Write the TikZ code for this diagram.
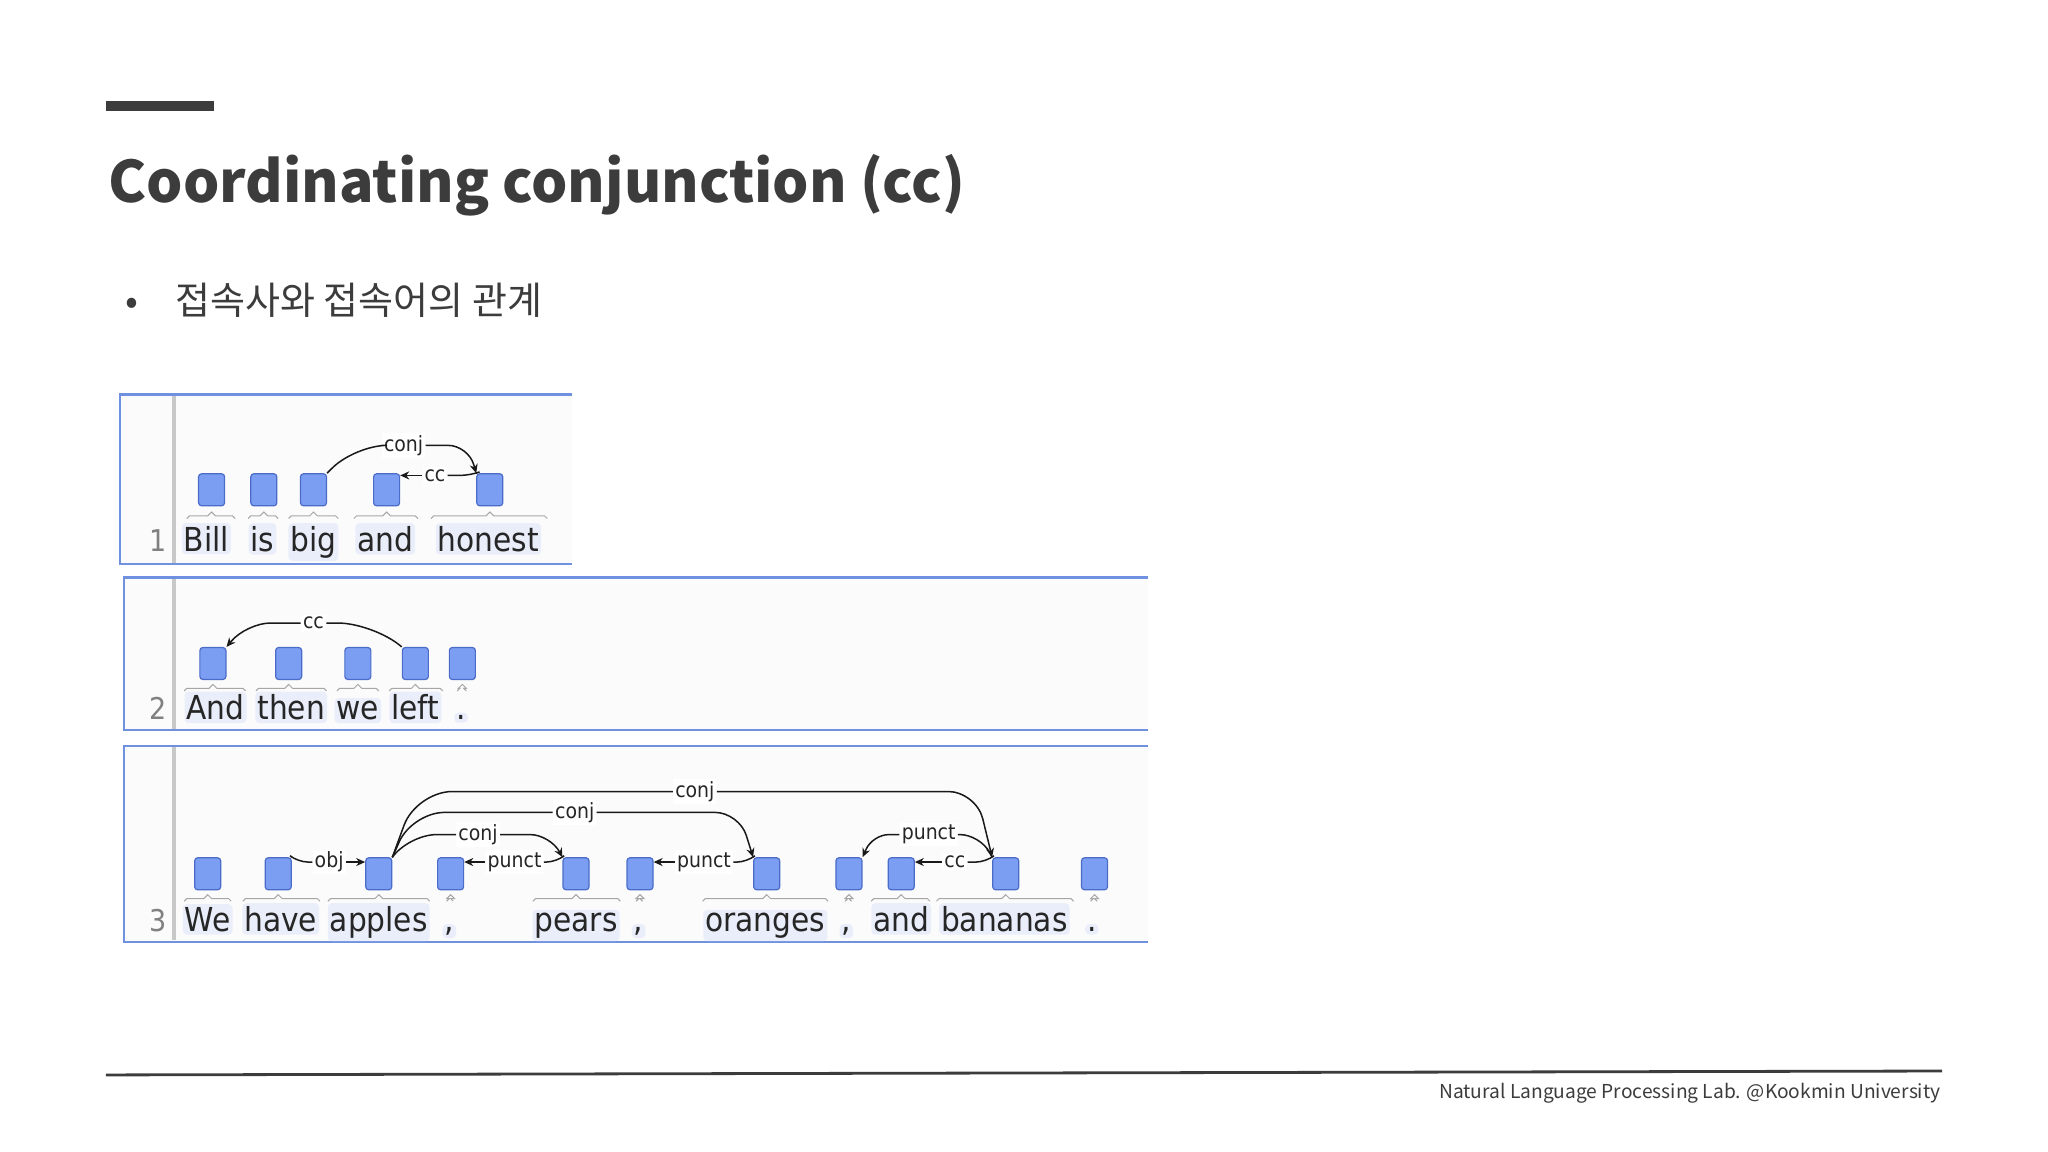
\documentclass[tikz,border=0pt]{standalone}
\usepackage{fontspec}
\setmainfont{Noto Sans CJK KR}
\newfontfamily\tokfont{DejaVu Sans Condensed}
\usetikzlibrary{arrows.meta,calc}
\definecolor{titlec}{HTML}{3C3C3C}
\definecolor{frameb}{HTML}{7090E0}
\definecolor{tokf}{HTML}{7C9EF2}
\definecolor{tokd}{HTML}{4A6CC8}
\definecolor{wbg}{HTML}{EAEEFA}
\definecolor{gdiv}{HTML}{C8C8C8}
\tikzset{
  tok/.style={draw=tokd,fill=tokf,rounded corners=1.5pt,minimum width=13pt,minimum height=16pt,inner sep=0pt,line width=0.6pt},
  wd/.style={fill=wbg,rounded corners=2pt,inner xsep=1pt,inner ysep=1.5pt,font=\tokfont\fontsize{16.5}{16.5}\selectfont,text=black!85,anchor=base},
  lab/.style={font=\tokfont\fontsize{10.5}{10.5}\selectfont,inner sep=1pt,fill=white,text=black!85},
  arcl/.style={draw=black!90,line width=0.75pt,rounded corners=10pt},
  arr/.style={arcl,-{Stealth[length=4.5pt,width=4pt]}},
  panelframe/.style={draw=frameb,line width=1.2pt},
  num/.style={font=\tokfont\fontsize{15}{15}\selectfont,text=gray,anchor=base}
}
\newcommand{\brk}[4]{\draw[gray!70,line width=0.5pt] (#1,#4+2)--(#1+2,#4)--(#3-3,#4)--(#3,#4-3)--(#3+3,#4)--(#2-2,#4)--(#2,#4+2);}
\begin{document}
\begin{tikzpicture}[x=0.653pt,y=-0.653pt]
\useasboundingbox (0,0) rectangle (1568,882);
\fill[white] (0,0) rectangle (1568,882);
% header
\fill[titlec] (81,77) rectangle (164,85);
\node[anchor=base west,inner sep=0,font=\fontsize{28.6}{28.6}\selectfont\bfseries,text=titlec] (title) at (83,155) {Coordinating conjunction (cc)};
\node[anchor=base west,inner sep=0,font=\fontsize{19}{19}\selectfont,text=titlec] (bul) at (96,241) {•};
\node[anchor=base west,inner sep=0,font=\fontsize{19}{19}\selectfont,text=titlec] (sub) at (134,241) {접속사와 접속어의 관계};
% footer
\draw[titlec,line width=1.4pt] (81,823) -- (1487,820);
\node[anchor=base east,inner sep=0,font=\fontsize{9.6}{9.6}\selectfont,text=titlec] (foot) at (1486,841) {Natural Language Processing Lab. @Kookmin University};

% ---------- Panel 1
\fill[black!1.5] (92,302) rectangle (438,432);
\draw[gdiv,line width=2pt] (133,303) -- (133,431);
\draw[panelframe] (438,302) -- (92,302) -- (92,432) -- (438,432);
\node[num] (n1) at (121,422) {1};
\node[wd] (w11) at (158,422) {Bill};
\node[wd] (w12) at (201,422) {is};
\node[wd] (w13) at (240,422) {big};
\node[wd] (w14) at (295,422) {and};
\node[wd] (w15) at (374,422) {honest};
\node[tok] (a1) at (162,375) {};
\node[tok] (a2) at (202,375) {};
\node[tok] (a3) at (240,375) {};
\node[tok] (a4) at (296,375) {};
\node[tok] (a5) at (375,375) {};
\brk{143}{180}{162}{395}\brk{190}{213}{202}{395}\brk{221}{259}{240}{395}\brk{271}{320}{296}{395}\brk{330}{419}{375}{395}
\node[lab] (l11) at (309,341) {conj};
\node[lab] (l12) at (333,364) {cc};
\draw[arcl,rounded corners=16pt] (a3.north east) -- ([xshift=14pt]a3.north east |- l11) -- (l11.west);
\draw[arr,rounded corners=10pt] (l11.east) -- ([xshift=-4pt]a5.north west |- l11) -- (a5.north west);
\draw[arcl,rounded corners=5pt] (a5.north west) -- ([xshift=-3pt]a5.north west |- l12) -- (l12.east);
\draw[arr] (l12.west) -- (a4.east |- l12);

% ---------- Panel 2
\fill[black!1.5] (95,442) rectangle (879,559);
\draw[gdiv,line width=2pt] (133,443) -- (133,558);
\draw[panelframe] (879,442) -- (95,442) -- (95,559) -- (879,559);
\node[num] (n2) at (121,551) {2};
\node[wd] (w21) at (165,551) {And};
\node[wd] (w22) at (223,551) {then};
\node[wd] (w23) at (274,551) {we};
\node[wd] (w24) at (318,551) {left};
\node[wd] (w25) at (353,551) {.};
\node[tok] (c1) at (163,508) {};
\node[tok] (c2) at (221,508) {};
\node[tok] (c3) at (274,508) {};
\node[tok] (c4) at (318,508) {};
\node[tok] (c5) at (354,508) {};
\brk{141}{188}{163}{527}\brk{196}{250}{221}{527}\brk{258}{290}{274}{527}\brk{298}{339}{318}{527}\brk{350}{357}{354}{527}
\node[lab] (l21) at (240,477) {cc};
\draw[arcl,rounded corners=18pt] (c4.north west) -- ([xshift=-14pt]c4.north west |- l21) -- (l21.east);
\draw[arr,rounded corners=12pt] (l21.west) -- ([xshift=10pt]c1.north east |- l21) -- (c1.north east);

% ---------- Panel 3
\fill[black!1.5] (95,571) rectangle (879,721);
\draw[gdiv,line width=2pt] (133,572) -- (133,720);
\draw[panelframe] (879,571) -- (95,571) -- (95,721) -- (879,721);
\node[num] (n3) at (121,713) {3};
\node[wd] (w31) at (159,713) {We};
\node[wd] (w32) at (215,713) {have};
\node[wd] (w33) at (290,713) {apples};
\node[wd] (w34) at (344,713) {,};
\node[wd] (w35) at (441,713) {pears};
\node[wd] (w36) at (489,713) {,};
\node[wd] (w37) at (586,713) {oranges};
\node[wd] (w38) at (648,713) {,};
\node[wd] (w39) at (690,713) {and};
\node[wd] (w310) at (769,713) {bananas};
\node[wd] (w311) at (836,713) {.};
\node[tok] (t1) at (159,669) {};
\node[tok] (t2) at (213,669) {};
\node[tok] (t3) at (290,669) {};
\node[tok] (t4) at (345,669) {};
\node[tok] (t5) at (441,669) {};
\node[tok] (t6) at (490,669) {};
\node[tok] (t7) at (587,669) {};
\node[tok] (t8) at (650,669) {};
\node[tok] (t9) at (690,669) {};
\node[tok] (t10) at (770,669) {};
\node[tok] (t11) at (838,669) {};
\brk{141}{177}{159}{688}\brk{186}{245}{213}{688}\brk{251}{329}{290}{688}\brk{342}{347}{345}{688}\brk{408}{475}{441}{688}\brk{487}{492}{490}{688}\brk{538}{634}{587}{688}\brk{647}{652}{650}{688}\brk{667}{712}{690}{688}\brk{717}{822}{770}{688}\brk{835}{840}{838}{688}
% labels
\node[lab] (m1) at (252,660) {obj};
\node[lab] (m2) at (394,660) {punct};
\node[lab] (m3) at (539,660) {punct};
\node[lab] (m4) at (731,660) {cc};
\node[lab] (m5) at (366,639) {conj};
\node[lab] (m6) at (440,622) {conj};
\node[lab] (m7) at (532,606) {conj};
\node[lab] (m8) at (711,639) {punct};
% obj
\draw[arcl,rounded corners=5pt] (t2.north east) -- ([xshift=3pt]t2.north east |- m1) -- (m1.west);
\draw[arr] (m1.east) -- (t3.west |- m1);
% punct pears -> ,
\draw[arcl,rounded corners=5pt] (t5.north west) -- ([xshift=-3pt]t5.north west |- m2) -- (m2.east);
\draw[arr] (m2.west) -- (t4.east |- m2);
% punct oranges -> ,
\draw[arcl,rounded corners=5pt] (t7.north west) -- ([xshift=-3pt]t7.north west |- m3) -- (m3.east);
\draw[arr] (m3.west) -- (t6.east |- m3);
% cc bananas -> and
\draw[arcl,rounded corners=5pt] (t10.north west) -- ([xshift=-3pt]t10.north west |- m4) -- (m4.east);
\draw[arr] (m4.west) -- (t9.east |- m4);
% conj apples -> pears
\draw[arcl,rounded corners=14pt] (t3.north east) -- ([xshift=8pt]t3.north east |- m5) -- (m5.west);
\draw[arr,rounded corners=10pt] (m5.east) -- ([xshift=-6pt]t5.north west |- m5) -- (t5.north west);
% conj apples -> oranges
\draw[arcl,rounded corners=16pt] (t3.north east) -- ([xshift=10pt]t3.north east |- m6) -- (m6.west);
\draw[arr,rounded corners=12pt] (m6.east) -- ([xshift=-7pt]t7.north west |- m6) -- (t7.north west);
% conj apples -> bananas
\draw[arcl,rounded corners=18pt] (t3.north east) -- ([xshift=12pt]t3.north east |- m7) -- (m7.west);
\draw[arr,rounded corners=14pt] (m7.east) -- ([xshift=-8pt]t10.north west |- m7) -- (t10.north west);
% punct bananas -> ,
\draw[arcl,rounded corners=10pt] (t10.north west) -- ([xshift=-6pt]t10.north west |- m8) -- (m8.east);
\draw[arr,rounded corners=8pt] (m8.west) -- ([xshift=5pt]t8.north east |- m8) -- (t8.north east);
\end{tikzpicture}
\end{document}
